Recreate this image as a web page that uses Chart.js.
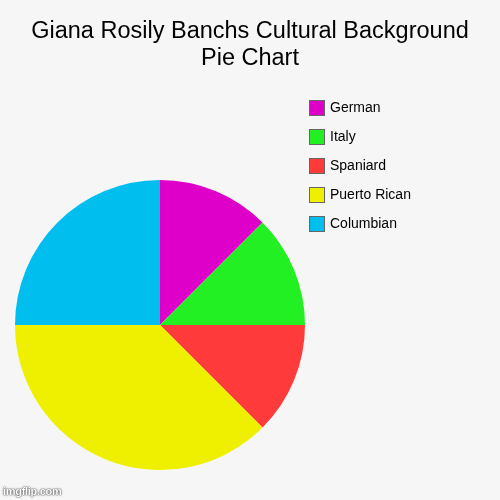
<!DOCTYPE html>
<html><head><meta charset="utf-8">
<script src="https://cdn.jsdelivr.net/npm/chart.js@4/dist/chart.umd.min.js"></script>
<style>
html,body{margin:0;padding:0;background:#f6f6f6;}
#wrap{position:relative;width:500px;height:500px;}
#wm{position:absolute;left:3px;bottom:3px;font:bold 11px "Liberation Sans",Arial,sans-serif;color:#fff;text-shadow:0 0 2px #333,0 0 1px #333;letter-spacing:-0.3px;}
</style></head>
<body><div id="wrap"><canvas id="c" width="500" height="500"></canvas><div id="wm">imgflip.com</div></div>
<script>
const categories = ["German", "Italy", "Spaniard", "Puerto Rican", "Columbian"];
const values = [1, 1, 1, 3, 2];
const colors = ["#de00c8", "#23f023", "#ff3a3a", "#efef00", "#00bfef"];
const titleLines = ["Giana Rosily Banchs Cultural Background", "Pie Chart"];

const titlePlugin = {
  id: 'fullTitle',
  afterDraw(chart) {
    const ctx = chart.ctx;
    ctx.save();
    ctx.font = '23.5px "Liberation Sans", Arial, sans-serif';
    ctx.fillStyle = '#000';
    ctx.textAlign = 'center';
    ctx.textBaseline = 'middle';
    titleLines.forEach((t, i) => ctx.fillText(t, chart.width / 2, 32 + i * 27));
    ctx.restore();
  }
};

const legendPlugin = {
  id: 'sideLegend',
  afterDraw(chart) {
    const ctx = chart.ctx;
    ctx.save();
    ctx.font = '14px "Liberation Sans", Arial, sans-serif';
    ctx.textBaseline = 'middle';
    chart.data.labels.forEach((lab, i) => {
      const y = 100 + i * 29;
      ctx.fillStyle = chart.data.datasets[0].backgroundColor[i];
      ctx.fillRect(309.5, y + 0.5, 15, 15);
      ctx.strokeStyle = '#666';
      ctx.lineWidth = 1;
      ctx.strokeRect(309.5, y + 0.5, 15, 15);
      ctx.fillStyle = '#000';
      ctx.fillText(lab, 330, y + 8.5);
    });
    ctx.restore();
  }
};

new Chart(document.getElementById('c'), {
  type: 'pie',
  data: {
    labels: categories,
    datasets: [{ data: values, backgroundColor: colors, borderWidth: 0, hoverOffset: 0 }]
  },
  options: {
    responsive: false,
    animation: false,
    layout: { padding: { top: 180, left: 15, right: 195, bottom: 30 } },
    plugins: {
      legend: { display: false },
      tooltip: { enabled: false },
      title: { display: false }
    }
  },
  plugins: [titlePlugin, legendPlugin]
});
</script></body></html>
